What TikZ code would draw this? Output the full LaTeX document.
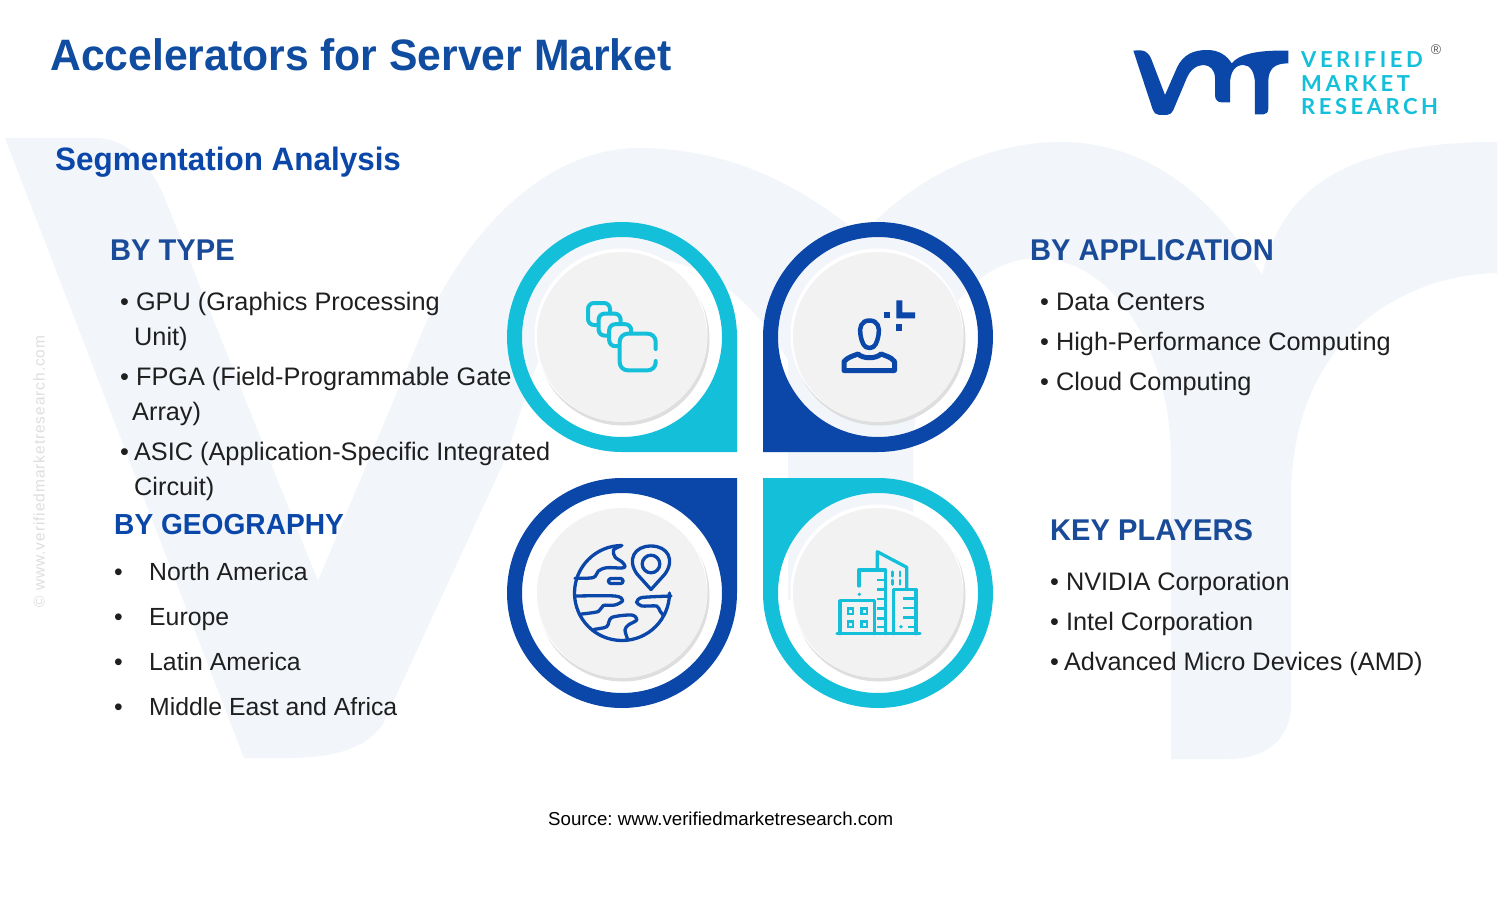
\documentclass[tikz,border=0pt]{standalone}
\usepackage{fontspec}
\setmainfont{Liberation Sans}
\newfontfamily\headfont[FakeStretch=.97]{Liberation Sans}
\newfontfamily\logofont[LetterSpace=16]{Lato}
\newfontfamily\wurlfont[LetterSpace=6]{Liberation Sans}
\definecolor{vmrblue}{HTML}{0A47A9}
\definecolor{vmrcyan}{HTML}{14BFDA}
\definecolor{titleblue}{HTML}{104C9F}
\definecolor{headblue}{HTML}{1A4B99}
\definecolor{wmark}{HTML}{F2F5FA}
\definecolor{discgray}{HTML}{F2F2F2}
\tikzset{
  titletext/.style={anchor=base west,inner sep=0pt,font=\headfont\bfseries\fontsize{44}{48}\selectfont,text=titleblue},
  subtext/.style={anchor=base west,inner sep=0pt,font=\headfont\bfseries\fontsize{32.4}{36}\selectfont,text=vmrblue},
  headtext/.style={anchor=base west,inner sep=0pt,font=\headfont\bfseries\fontsize{30}{34}\selectfont,text=headblue},
  itemtext/.style={anchor=base west,inner sep=0pt,font=\fontsize{25.3}{30}\selectfont,text=black!88},
  geotext/.style={itemtext,font=\fontsize{24.8}{30}\selectfont},
  logotext/.style={anchor=base west,inner sep=0pt,font=\logofont\bfseries\fontsize{22}{24}\selectfont,text=vmrcyan},
  iconline/.style={line width=3.3pt,line cap=round,line join=round},
  tickline/.style={line width=2.4pt},
}
\begin{document}
\frenchspacing
\begin{tikzpicture}[x=1pt,y=-1pt]
  \useasboundingbox (0,0) rectangle (1500,911);
  \fill[white] (0,0) rectangle (1500,911);
  % watermark
  \fill[wmark] (5,138) -- (95,138) .. controls (125,138) and (150,160) .. (167,204) -- (318,581)
    -- (421,335) .. controls (460,240) and (540,150) .. (636,148)
    .. controls (730,148) and (800,185) .. (862,236)
    .. controls (900,190) and (975,142) .. (1061,142)
    .. controls (1150,142) and (1215,200) .. (1262,275)
    .. controls (1280,200) and (1330,142) .. (1497,142) -- (1497,273)
    .. controls (1400,275) and (1291,340) .. (1291,499) -- (1291,704)
    .. controls (1291,740) and (1265,759) .. (1228,759) -- (1171,759) -- (1171,458)
    .. controls (1171,360) and (1120,262) .. (1040,258)
    .. controls (960,258) and (913,350) .. (913,458) -- (913,600) -- (788,600) -- (788,360)
    .. controls (750,295) and (700,258) .. (640,258)
    .. controls (570,258) and (535,360) .. (507,455)
    -- (383,724) .. controls (365,750) and (330,758) .. (287,758) -- (244,758) -- cycle;
  % titles
  \node[titletext] (title) at (50,70) {Accelerators for Server Market};
  \node[subtext] (subtitle) at (55,170) {Segmentation Analysis};
  \node[rotate=90,font=\wurlfont\fontsize{15.5}{17}\selectfont,text=black!13] (wurl) at (39,471.5) {© www.verifiedmarketresearch.com};
  % logo
  \begin{scope}[shift={(1120,30)},x=.3333pt,y=-.3333pt]
    \fill[vmrblue] (40,62) .. controls (75,58) and (85,65) .. (95,90) -- (135,195) -- (170,115)
      .. controls (190,70) and (225,60) .. (262,60) .. controls (295,60) and (320,75) .. (335,100)
      .. controls (360,70) and (420,60) .. (505,62) -- (505,100) .. controls (465,100) and (445,115) .. (445,155)
      -- (445,235) .. controls (445,248) and (438,253) .. (430,253) -- (405,253) -- (405,165)
      .. controls (405,125) and (390,105) .. (370,105) .. controls (345,105) and (330,125) .. (330,165)
      -- (330,217) -- (305,217) .. controls (292,217) and (285,208) .. (285,195) -- (285,145)
      .. controls (285,120) and (270,105) .. (250,105) .. controls (230,105) and (210,120) .. (200,145)
      -- (160,240) .. controls (155,250) and (148,255) .. (140,255) -- (118,255)
      .. controls (108,255) and (102,248) .. (98,238) -- cycle;
  \end{scope}
  \node[logotext] (logoa) at (1301,67) {VERIFIED};
  \node[logotext] (logob) at (1301,91) {MARKET};
  \node[logotext] (logoc) at (1301,114.5) {RESEARCH};
  \node[font=\fontsize{14}{15}\selectfont,text=black!65] (logor) at (1436,50) {®};
  % petals
  \foreach \cx/\cy/\sa/\dx/\dy/\col in {622/337/0/115/115/vmrcyan,878/337/90/-115/115/vmrblue,
      622/593/270/115/-115/vmrblue,878/593/180/-115/-115/vmrcyan}{
    \fill[\col,even odd rule] (\cx+\dx,\cy+\dy) -- ({\cx+115*cos(\sa)},{\cy+115*sin(\sa)})
      arc[start angle=\sa,delta angle=-270,radius=115] -- cycle (\cx,\cy) circle (100);
    \fill[black!13] (\cx+1,\cy+2) circle (86.5);
    \fill[white] (\cx-1,\cy-2) circle (86.5);
    \fill[discgray] (\cx,\cy) circle (85);
  }
  % chip icon
  \foreach \p in {0,1,2}{
    \draw[vmrcyan,iconline,line width=4pt,rounded corners=6pt] (610+\p*10.6,312+\p*10.6) -- ++(0,-9) -- ++(-22,0) -- ++(0,22) -- ++(9,0);
  }
  \draw[vmrcyan,iconline,line width=4pt,rounded corners=8pt] (655.7,349) -- (655.7,333.7) -- (619.7,333.7) -- (619.7,370.3) -- (655.7,370.3) -- (655.7,361);
  % person icon
  \draw[vmrblue,line width=4.5pt,line join=round] (869.5,320.5) .. controls (878,320.5) and (880,328) .. (878.5,335) .. controls (877,343) and (875,348) .. (869.5,348) .. controls (864,348) and (862,343) .. (860.5,335) .. controls (859,328) and (861,320.5) .. (869.5,320.5) -- cycle;
  \draw[vmrblue,line width=5pt,line join=round] (844,370.5) -- (844,361.5) .. controls (848,357) and (853,356) .. (858,354) .. controls (863,359) and (876,359) .. (881,354) .. controls (886,356) and (891,357) .. (894.5,361.5) -- (894.5,370.5) -- cycle;
  \fill[vmrblue] (884.3,312.3) rectangle (890.3,318.3);
  \fill[vmrblue] (896.3,324.3) rectangle (902.3,330.5);
  \fill[vmrblue] (896.3,300.3) rectangle (902.3,318.3) (896.3,312.3) rectangle (915,318.3);
  % globe icon
  \draw[vmrblue,iconline] (622,545.5) arc[start angle=-90,delta angle=-270,radius=47.5];
  \draw[vmrblue,iconline] plot[smooth,tension=.55] coordinates {(621,546) (613.5,550) (615,557) (621.5,561.5) (625,566) (622,568) (606.7,567.7) (598.3,571) (593.3,577.5) (575,578.3)};
  \draw[vmrblue,iconline,rounded corners=2.4pt] (608.5,578.5) rectangle (623,583.5);
  \draw[vmrblue,iconline] plot[smooth,tension=.5] coordinates {(576,596) (615,596) (622.7,600.5) (615,605) (603.3,605.5) (598.3,611.5) (581.7,614)};
  \draw[vmrblue,iconline] plot[smooth,tension=.5] coordinates {(594,629.3) (606.7,626.7) (611.7,617.5) (631.7,615) (636.7,620) (628.3,625) (625,630) (627.3,638.3)};
  \draw[vmrblue,iconline] plot[smooth,tension=.4] coordinates {(671,596) (642,597.5) (636.7,602) (641.7,606) (656.7,606) (660,611) (663,615)};
  \draw[vmrblue,iconline] (651,589.5) -- (637,574) .. controls (627,560) and (634,546) .. (651,546) .. controls (668,546) and (675,560) .. (665,574) -- cycle;
  \draw[vmrblue,iconline] (651,564) circle (8.8);
  % building icon
  \draw[vmrcyan,iconline] (837,633.7) -- (920,633.7);
  \draw[vmrcyan,iconline] (840,633.7) -- (840,600.7) -- (874.3,600.7) -- (874.3,633.7);
  \draw[vmrcyan,iconline] (859,586) -- (859,570) -- (885.7,570) -- (885.7,633.7);
  \draw[vmrcyan,iconline] (877.3,570) -- (877.3,551.7) -- (906.7,567.3) -- (906.7,588);
  \draw[vmrcyan,iconline] (893.3,633.7) -- (893.3,589.3) -- (916,589.3) -- (916,633.7);
  \foreach \p in {580,589.3,599,608.3,618.3,626.7}{\draw[vmrcyan,tickline] (877,\p) -- (885,\p);}
  \foreach \p in {598.3,607.7,617.3}{\draw[vmrcyan,tickline] (903.3,\p) -- (916,\p);}
  \draw[vmrcyan,tickline] (908,626.7) -- (916,626.7);
  \foreach \a/\b in {850.7/611,864/611,850.7/624,864/624}{\draw[vmrcyan,line width=2.2pt] (\a-2.6,\b-2.6) rectangle (\a+2.6,\b+2.6);}
  \foreach \a in {892.3,900}{\foreach \b in {571.7,580}{\draw[vmrcyan,line width=2.6pt,line cap=round] (\a,\b) -- (\a,\b+4.5);}}
  \fill[vmrcyan] (859.3,594.3) circle (1.8) (901,626.7) circle (1.8);
  % by type
  \node[headtext] (htype) at (110,260) {BY TYPE};
  \node[itemtext] (ta) at (120,310) {• GPU (Graphics Processing};
  \node[itemtext] (tb) at (134,345) {Unit)};
  \node[itemtext] (tc) at (120,385) {• FPGA (Field-Programmable Gate};
  \node[itemtext] (td) at (132,420) {Array)};
  \node[itemtext] (te) at (120,460) {•\kern-2pt{} ASIC (Application-Specific Integrated};
  \node[itemtext] (tf) at (134,495) {Circuit)};
  % by geography
  \node[headtext,font=\headfont\bfseries\fontsize{29}{34}\selectfont,text=vmrblue] (hgeo) at (114,534) {BY GEOGRAPHY};
  \foreach \y/\name/\txt in {580.5/ga/North America,625.5/gb/Europe,670.5/gc/Latin America,715.5/gd/Middle East and Africa}{
    \node[geotext] (b\name) at (114,\y) {•};
    \node[geotext] (\name) at (149,\y) {\txt};
  }
  % by application
  \node[headtext] (happ) at (1030,260) {BY APPLICATION};
  \node[itemtext] (aa) at (1040,310) {• Data Centers};
  \node[itemtext] (ab) at (1040,350) {• High-Performance Computing};
  \node[itemtext] (ac) at (1040,390) {• Cloud Computing};
  % key players
  \node[headtext] (hkey) at (1050,540) {KEY PLAYERS};
  \node[itemtext] (ka) at (1050,590) {• NVIDIA Corporation};
  \node[itemtext] (kb) at (1050,630) {• Intel Corporation};
  \node[itemtext] (kc) at (1050,670) {•\kern-2pt{} Advanced Micro Devices (AMD)};
  % source
  \node[anchor=base west,inner sep=0pt,font=\fontsize{18.7}{22}\selectfont] (source) at (548,825) {Source: www.verifiedmarketresearch.com};
\end{tikzpicture}
\end{document}
